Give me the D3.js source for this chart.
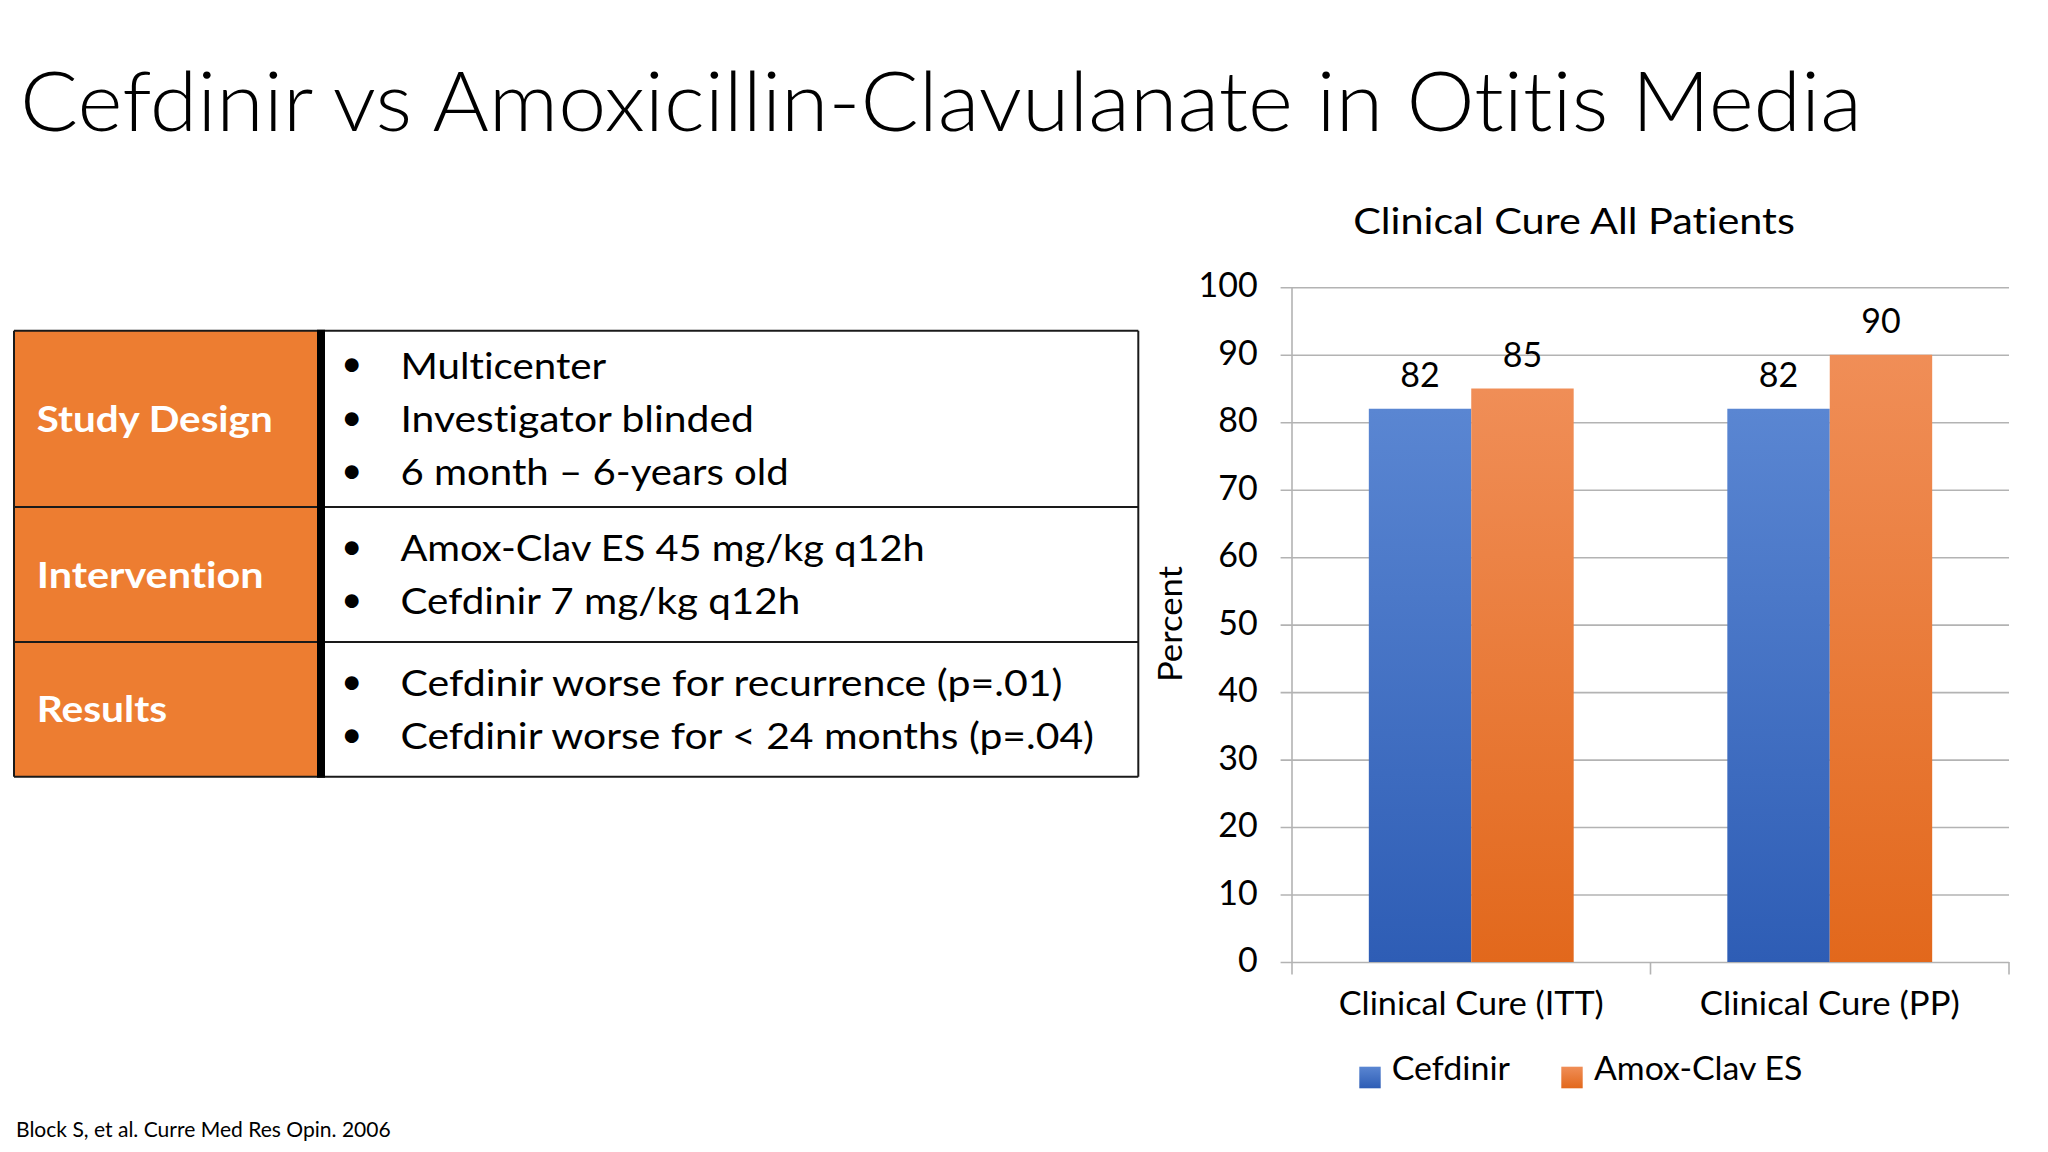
<!DOCTYPE html>
<html>
<head>
<meta charset="utf-8">
<script src="https://cdnjs.cloudflare.com/ajax/libs/d3/7.8.5/d3.min.js"></script>
<style>
  html, body { margin: 0; padding: 0; background: #ffffff; }
  svg { display: block; }
  text { font-family: Lato, "Open Sans", "Noto Sans", sans-serif; font-variant-ligatures: none; font-feature-settings: "liga" 0, "clig" 0; }
</style>
</head>
<body>
<svg id="chart" width="2048" height="1152"></svg>
<script>
// ---------------- DATA ----------------
const slideTitle = "Cefdinir vs Amoxicillin-Clavulanate in Otitis Media";
const chartTitle = "Clinical Cure All Patients";
const yAxisTitle = "Percent";
const footnote = "Block S, et al. Curre Med Res Opin. 2006";

const categories = ["Clinical Cure (ITT)", "Clinical Cure (PP)"];
const seriesNames = ["Cefdinir", "Amox-Clav ES"];
const cefdinirValues = [82, 82];
const amoxClavValues = [85, 90];
const yTickValues = [0, 10, 20, 30, 40, 50, 60, 70, 80, 90, 100];

const rowLabels = ["Study Design", "Intervention", "Results"];
const rowBullets = [
  ["Multicenter", "Investigator blinded", "6 month \u2013 6-years old"],
  ["Amox-Clav ES 45 mg/kg q12h", "Cefdinir 7 mg/kg q12h"],
  ["Cefdinir worse for recurrence (p=.01)", "Cefdinir worse for < 24 months (p=.04)"]
];

// ---------------- LAYOUT / STYLE ----------------
const textWidths = {
  [slideTitle]: 1842,
  [chartTitle]: 441.7,
  [footnote]: 374.7,
  "Study Design": 236, "Intervention": 227, "Results": 130.5,
  "Multicenter": 205.7, "Investigator blinded": 353.3, "6 month \u2013 6-years old": 388.3,
  "Amox-Clav ES 45 mg/kg q12h": 524.3, "Cefdinir 7 mg/kg q12h": 399.7,
  "Cefdinir worse for recurrence (p=.01)": 662, "Cefdinir worse for < 24 months (p=.04)": 693.5,
  "Clinical Cure (ITT)": 265, "Clinical Cure (PP)": 260,
  "Cefdinir": 118.3, "Amox-Clav ES": 208.3,
  [yAxisTitle]: 116
};

const svg = d3.select("#chart");
svg.append("rect").attr("width", 2048).attr("height", 1152).attr("fill", "#ffffff");

function fit(sel, str) {
  const w = textWidths[str];
  if (w) sel.attr("textLength", w).attr("lengthAdjust", "spacingAndGlyphs");
  return sel;
}

// Gradients
const defs = svg.append("defs");
const gradSpecs = [
  { id: "gBlue", top: "#5a86d2", bottom: "#2e5db5" },
  { id: "gOrange", top: "#f08e57", bottom: "#e2681c" }
];
gradSpecs.forEach(g => {
  const lg = defs.append("linearGradient").attr("id", g.id)
    .attr("x1", 0).attr("y1", 0).attr("x2", 0).attr("y2", 1);
  lg.append("stop").attr("offset", "0%").attr("stop-color", g.top);
  lg.append("stop").attr("offset", "100%").attr("stop-color", g.bottom);
});
const seriesFill = d3.scaleOrdinal().domain(seriesNames).range(["url(#gBlue)", "url(#gOrange)"]);

// ---------------- SLIDE TITLE ----------------
fit(svg.append("text")
  .attr("x", 20).attr("y", 131)
  .attr("font-size", 82).attr("font-weight", 300).attr("fill", "#000")
  .text(slideTitle), slideTitle);

// ---------------- TABLE ----------------
const tbl = { left: 14, right: 1138.3, split: 321, rows: [330.7, 507, 642, 776.7] };
const lineGap = 53.3;

rowLabels.forEach((lab, i) => {
  const y0 = tbl.rows[i], y1 = tbl.rows[i + 1];
  svg.append("rect").attr("x", tbl.left).attr("y", y0)
    .attr("width", tbl.split - tbl.left).attr("height", y1 - y0)
    .attr("fill", "#ED7D31");
  const cy = (y0 + y1) / 2;
  fit(svg.append("text").attr("x", 36.7).attr("y", cy + 13)
    .attr("font-size", 36).attr("font-weight", 700).attr("fill", "#ffffff")
    .text(lab), lab);
  const lines = rowBullets[i];
  lines.forEach((ln, j) => {
    const base = cy - (lines.length - 1) / 2 * lineGap + j * lineGap + 13.3;
    svg.append("text").attr("x", 351.7).attr("y", base - 2.5)
      .attr("text-anchor", "middle")
      .attr("font-family", "'Liberation Sans', Arial, sans-serif")
      .attr("font-size", 37).attr("fill", "#000").text("\u2022");
    fit(svg.append("text").attr("x", 400.5).attr("y", base)
      .attr("font-size", 37).attr("fill", "#000").text(ln), ln);
  });
});
// borders
tbl.rows.forEach(y => {
  svg.append("line").attr("x1", tbl.left).attr("x2", tbl.right)
    .attr("y1", y).attr("y2", y).attr("stroke", "#1a1a1a").attr("stroke-width", 2);
});
[tbl.left, tbl.right].forEach(x => {
  svg.append("line").attr("x1", x).attr("x2", x)
    .attr("y1", tbl.rows[0]).attr("y2", tbl.rows[3]).attr("stroke", "#1a1a1a").attr("stroke-width", 2);
});
svg.append("line").attr("x1", tbl.split).attr("x2", tbl.split)
  .attr("y1", tbl.rows[0] - 1).attr("y2", tbl.rows[3] + 1)
  .attr("stroke", "#000").attr("stroke-width", 8);

// ---------------- BAR CHART ----------------
const plot = { left: 1292, right: 2009, top: 287.3, bottom: 962 };
const x = d3.scaleBand().domain(categories).range([plot.left, plot.right]).padding(0);
const xs = d3.scaleBand().domain(seriesNames).range([0, x.bandwidth()]).paddingInner(0).paddingOuter(0.75);
const y = d3.scaleLinear().domain([0, 100]).range([plot.bottom, plot.top]);

// gridlines + y tick labels (axis anchored on right so ticks extend left past axis)
const gridColor = "#b3b3b3";
const yAxisG = svg.append("g").attr("transform", `translate(${plot.right},0)`)
  .call(d3.axisLeft(y).tickValues(yTickValues).tickSize(plot.right - 1280.6).tickPadding(23).tickFormat(d3.format("d")));
yAxisG.select(".domain").remove();
yAxisG.selectAll(".tick line").attr("stroke", gridColor).attr("stroke-width", 1.6);
yAxisG.selectAll(".tick text").attr("font-family", "Lato, sans-serif").attr("font-size", 34)
  .attr("fill", "#000").attr("dy", 9.5);

// vertical axis line
svg.append("line").attr("x1", plot.left).attr("x2", plot.left)
  .attr("y1", y(100)).attr("y2", plot.bottom + 12.5)
  .attr("stroke", gridColor).attr("stroke-width", 1.6);
// category separators ticks
categories.forEach(c => {
  const xe = x(c) + x.bandwidth();
  svg.append("line").attr("x1", xe).attr("x2", xe)
    .attr("y1", plot.bottom).attr("y2", plot.bottom + 12.5)
    .attr("stroke", gridColor).attr("stroke-width", 1.6);
});

// bars
const barData = [];
categories.forEach((c, i) => {
  barData.push({ cat: c, series: seriesNames[0], value: cefdinirValues[i] });
  barData.push({ cat: c, series: seriesNames[1], value: amoxClavValues[i] });
});
svg.append("g").selectAll("rect").data(barData).join("rect")
  .attr("x", d => x(d.cat) + xs(d.series))
  .attr("y", d => y(d.value))
  .attr("width", xs.bandwidth())
  .attr("height", d => y(0) - y(d.value))
  .attr("fill", d => seriesFill(d.series));

// value labels
svg.append("g").selectAll("text").data(barData).join("text")
  .attr("x", d => x(d.cat) + xs(d.series) + xs.bandwidth() / 2)
  .attr("y", d => y(d.value) - 22)
  .attr("text-anchor", "middle").attr("font-size", 34).attr("fill", "#000")
  .text(d => d.value);

// x axis labels
const xAxisG = svg.append("g").attr("transform", `translate(0,${plot.bottom})`)
  .call(d3.axisBottom(x).tickSize(0).tickPadding(0));
xAxisG.select(".domain").remove();
xAxisG.selectAll(".tick text")
  .attr("font-family", "Lato, sans-serif").attr("font-size", 33).attr("fill", "#000")
  .attr("y", 1015 - plot.bottom).attr("dy", 0)
  .each(function(d) { fit(d3.select(this), d); });

// chart title
fit(svg.append("text").attr("x", 1574).attr("y", 234.3).attr("text-anchor", "middle")
  .attr("font-size", 36).attr("fill", "#000").text(chartTitle), chartTitle);

// y axis title
fit(svg.append("text")
  .attr("transform", `translate(1181.5,624) rotate(-90)`)
  .attr("text-anchor", "middle")
  .attr("font-family", "'Open Sans', 'Noto Sans', sans-serif")
  .attr("font-size", 33).attr("fill", "#000").text(yAxisTitle), yAxisTitle);

// legend
const legendPos = [{ sx: 1359.3, tx: 1391.7 }, { sx: 1561.3, tx: 1594 }];
seriesNames.forEach((s, i) => {
  svg.append("rect").attr("x", legendPos[i].sx).attr("y", 1066.7)
    .attr("width", 21.4).attr("height", 21.6).attr("fill", seriesFill(s));
  fit(svg.append("text").attr("x", legendPos[i].tx).attr("y", 1080)
    .attr("font-size", 33).attr("fill", "#000").text(s), s);
});

// footnote
fit(svg.append("text").attr("x", 16).attr("y", 1136.7)
  .attr("font-size", 21).attr("fill", "#000").text(footnote), footnote);
</script>
</body>
</html>
